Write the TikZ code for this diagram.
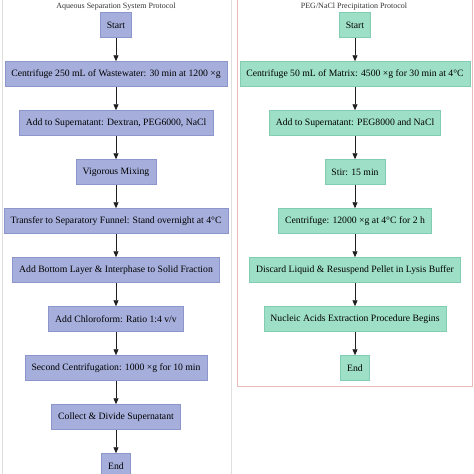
\documentclass[tikz,border=0pt]{standalone}
\usepackage{fontspec}
\setmainfont{Liberation Serif}
\usetikzlibrary{arrows.meta}
\definecolor{lbox}{RGB}{166,175,220}
\definecolor{lboxd}{RGB}{140,150,205}
\definecolor{rbox}{RGB}{158,224,199}
\definecolor{rboxd}{RGB}{130,205,178}
\definecolor{pinkb}{RGB}{232,186,186}
\definecolor{grayb}{RGB}{222,222,222}
\definecolor{arr}{RGB}{30,30,30}
\begin{document}
\begin{tikzpicture}[x=1pt,y=-1pt,
  stepl/.style={draw=lboxd,fill=lbox,line width=0.5pt,minimum height=25pt,inner xsep=6.5pt,inner ysep=0pt,font=\fontsize{9.7}{11}\selectfont,text=black},
  stepr/.style={draw=rboxd,fill=rbox,line width=0.5pt,minimum height=25pt,inner xsep=6.5pt,inner ysep=0pt,font=\fontsize{9.7}{11}\selectfont,text=black},
  conn/.style={draw=arr,line width=0.9pt,-{Triangle[length=6pt,width=5pt]}},
  ttl/.style={font=\fontsize{8}{9}\selectfont,text=black!80,anchor=base}]
\useasboundingbox (0,0) rectangle (474,474);
\clip (0,0) rectangle (474,474);
\fill[white] (0,0) rectangle (474,474);
% clusters
\draw[grayb,line width=0.8pt] (2,-20) rectangle (231,500);
\draw[pinkb,line width=0.8pt] (237,-20) rectangle (472,386);
\node[ttl] (tl) at (116,8) {Aqueous Separation System Protocol};
\node[ttl] (tr) at (354,8) {PEG/NaCl Precipitation Protocol};
% left column
\node[stepl] (l1) at (116,25) {Start};
\node[stepl] (l2) at (116,74) {Centrifuge 250 mL of Wastewater: 30 min at 1200 ×g};
\node[stepl] (l3) at (116,123) {Add to Supernatant: Dextran, PEG6000, NaCl};
\node[stepl] (l4) at (116,172) {Vigorous Mixing};
\node[stepl] (l5) at (116,221) {Transfer to Separatory Funnel: Stand overnight at 4°C};
\node[stepl] (l6) at (116,270) {Add Bottom Layer \& Interphase to Solid Fraction};
\node[stepl] (l7) at (116,319) {Add Chloroform: Ratio 1:4 v/v};
\node[stepl] (l8) at (116,368) {Second Centrifugation: 1000 ×g for 10 min};
\node[stepl] (l9) at (116,417) {Collect \& Divide Supernatant};
\node[stepl] (l10) at (116,466) {End};
\foreach \a/\b in {l1/l2,l2/l3,l3/l4,l4/l5,l5/l6,l6/l7,l7/l8,l8/l9,l9/l10}
  \draw[conn] (\a.south) -- (\b.north);
% right column
\node[stepr] (r1) at (355,25) {Start};
\node[stepr] (r2) at (355,74) {Centrifuge 50 mL of Matrix: 4500 ×g for 30 min at 4°C};
\node[stepr] (r3) at (355,123) {Add to Supernatant: PEG8000 and NaCl};
\node[stepr] (r4) at (355,172) {Stir: 15 min};
\node[stepr] (r5) at (355,221) {Centrifuge: 12000 ×g at 4°C for 2 h};
\node[stepr] (r6) at (355,270) {Discard Liquid \& Resuspend Pellet in Lysis Buffer};
\node[stepr] (r7) at (355,319) {Nucleic Acids Extraction Procedure Begins};
\node[stepr] (r8) at (355,368) {End};
\foreach \a/\b in {r1/r2,r2/r3,r3/r4,r4/r5,r5/r6,r6/r7,r7/r8}
  \draw[conn] (\a.south) -- (\b.north);
\end{tikzpicture}
\end{document}
